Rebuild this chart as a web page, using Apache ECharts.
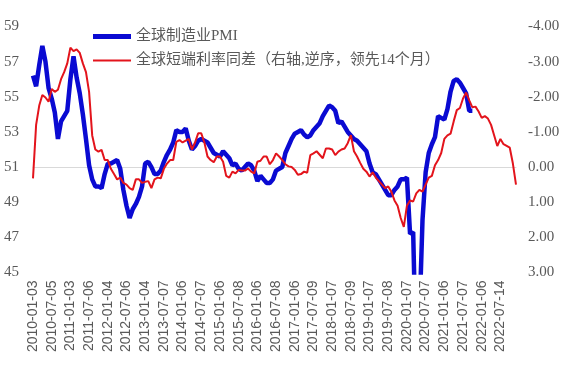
<!DOCTYPE html>
<html>
<head>
<meta charset="utf-8">
<script src="https://cdn.jsdelivr.net/npm/echarts@6/dist/echarts.min.js"></script>
<style>
html,body{margin:0;padding:0;background:#fff;}
#chart{width:569px;height:370px;}
</style>
</head>
<body>
<div id="chart"></div>
<script>
// Tick labels shown on the category axis (every 6 months)
var tickLabels = ['2010-01-03','2010-07-05','2011-01-03','2011-07-06','2012-01-04','2012-07-06',
  '2013-01-04','2013-07-07','2014-01-06','2014-07-07','2015-01-06','2015-07-08','2016-01-06',
  '2016-07-08','2017-01-06','2017-07-09','2018-01-07','2018-07-09','2019-01-07','2019-07-08',
  '2020-01-07','2020-07-07','2021-01-06','2021-07-07','2022-01-06','2022-07-14'];

// Monthly categories 2010-01 .. 2022-12
var categories = [];
for (var y = 2010; y <= 2022; y++) {
  for (var mo = 1; mo <= 12; mo++) {
    categories.push(y + '-' + (mo < 10 ? '0' + mo : mo));
  }
}

var seriesNames = ['全球制造业PMI', '全球短端利率同差（右轴,逆序，领先14个月）'];

// Global manufacturing PMI (left axis)
var pmi = [
  56.2,55.6,56.8,57.9,57.0,55.5,54.9,54.1,52.6,53.6,
  53.9,54.2,56.0,57.3,56.1,55.2,54.0,52.6,51.1,50.3,
  49.9,49.9,49.8,50.6,51.2,51.2,51.3,51.4,50.9,49.7,
  48.8,48.1,48.6,48.9,49.3,49.9,51.2,51.3,51.0,50.6,
  50.6,50.8,51.3,51.7,52.0,52.4,53.1,53.0,53.0,53.2,
  52.5,52.0,52.2,52.5,52.6,52.5,52.4,52.1,51.8,51.7,
  51.6,51.9,51.7,51.5,51.1,51.2,50.9,50.8,51.0,51.2,
  51.1,50.8,50.2,50.5,50.3,50.1,50.1,50.3,50.8,50.9,
  51.0,51.8,52.2,52.6,52.9,53.0,53.1,52.85,52.7,52.8,
  53.1,53.3,53.5,53.9,54.2,54.5,54.4,54.2,53.5,53.6,
  53.3,53.0,52.8,52.6,52.5,52.3,52.1,51.9,51.2,50.7,
  50.6,50.3,50.0,49.7,49.4,49.4,49.7,49.9,50.3,50.3,
  50.4,47.2,47.3,39.6,42.4,48.0,50.7,51.8,52.3,52.7,
  53.9,53.8,53.7,54.3,55.3,55.9,56.0,55.8,55.5,55.2,
  54.2,54.2
];

// Global short-rate YoY difference (right axis, inverted, led 14 months)
var rateDiff = [
  0.32,-1.2,-1.75,-2.05,-1.98,-1.86,-2.22,-2.14,-2.2,-2.5,
  -2.7,-2.95,-3.4,-3.3,-3.35,-3.25,-2.95,-2.7,-2.14,-0.9,
  -0.5,-0.44,-0.49,-0.2,-0.2,0.05,0.2,0.35,0.3,0.45,
  0.5,0.6,0.65,0.35,0.35,0.45,0.42,0.4,0.6,0.35,
  0.3,0.32,0.05,-0.1,-0.2,-0.2,-0.72,-0.77,-0.7,-0.75,
  -0.8,-0.5,-0.7,-0.96,-0.96,-0.7,-0.3,-0.2,-0.14,-0.3,
  -0.3,-0.15,0.25,0.3,0.13,0.18,0.08,0.1,0.1,0.04,
  0.13,0.18,-0.15,-0.18,-0.3,-0.3,-0.08,-0.2,-0.39,-0.3,
  -0.2,-0.08,-0.02,0.0,0.08,0.22,0.2,0.13,0.16,-0.34,
  -0.39,-0.45,-0.35,-0.25,-0.53,-0.53,-0.5,-0.34,-0.44,-0.5,
  -0.53,-0.68,-0.91,-0.45,-0.3,-0.12,0.05,0.13,0.27,0.15,
  0.3,0.4,0.5,0.6,0.55,0.7,0.95,1.1,1.45,1.7,
  1.1,0.95,0.98,0.75,0.65,0.7,0.5,0.3,0.25,-0.05,
  -0.2,-0.4,-0.8,-0.9,-0.95,-1.3,-1.62,-1.68,-1.95,-2.12,
  -1.9,-1.7,-1.72,-1.58,-1.4,-1.45,-1.38,-1.2,-0.9,-0.6,
  -0.8,-0.65,-0.6,-0.55,-0.1,0.5
];

var txt = '#595959';
var blue = '#0a0ad2';
var red = '#e3141c';
var serif = "'Liberation Serif', 'Noto Sans CJK SC', serif";

var chart = echarts.init(document.getElementById('chart'), null, {renderer: 'canvas'});
chart.setOption({
  animation: false,
  backgroundColor: '#ffffff',
  grid: {left: 33, right: 53, top: 26.5, bottom: 97.5, containLabel: false},
  legend: {
    orient: 'vertical',
    left: 88,
    top: 24,
    itemWidth: 38,
    itemHeight: 14,
    itemGap: 9,
    symbolKeepAspect: true,
    data: [
      {name: seriesNames[0], icon: 'path://M0,0h38v5h-38z', itemStyle: {color: blue, borderWidth: 0}},
      {name: seriesNames[1], icon: 'path://M0,0h38v2h-38z', itemStyle: {color: red, borderWidth: 0}}
    ],
    textStyle: {color: txt, fontSize: 15, fontFamily: serif}
  },
  xAxis: {
    type: 'category',
    data: categories,
    boundaryGap: false,
    axisLine: {show: true, lineStyle: {color: '#d9d9d9', width: 1}},
    axisTick: {show: false},
    axisLabel: {
      interval: 5,
      rotate: 90,
      margin: 8,
      color: txt,
      fontSize: 14,
      fontFamily: "'Liberation Sans', sans-serif",
      formatter: function (v, i) { return tickLabels[Math.round(i / 6)] || ''; }
    },
    splitLine: {show: false}
  },
  yAxis: [
    {
      type: 'value',
      min: 45, max: 59, interval: 2,
      axisLine: {show: false},
      axisTick: {show: false},
      splitLine: {show: false},
      axisLabel: {color: txt, fontSize: 15, fontFamily: serif, margin: 14}
    },
    {
      type: 'value',
      min: -4, max: 3, interval: 1,
      inverse: true,
      position: 'right',
      axisLine: {show: false},
      axisTick: {show: false},
      splitLine: {show: false},
      axisLabel: {color: txt, fontSize: 15, fontFamily: serif, margin: 12,
        formatter: function (v) { return v.toFixed(2); }}
    }
  ],
  series: [
    {
      name: seriesNames[0],
      type: 'line',
      yAxisIndex: 0,
      data: pmi,
      symbol: 'none',
      clip: true,
      lineStyle: {color: blue, width: 4.5},
      itemStyle: {color: blue}
    },
    {
      name: seriesNames[1],
      type: 'line',
      yAxisIndex: 1,
      data: rateDiff,
      symbol: 'none',
      clip: true,
      lineStyle: {color: red, width: 2},
      itemStyle: {color: red}
    }
  ]
});
</script>
</body>
</html>
